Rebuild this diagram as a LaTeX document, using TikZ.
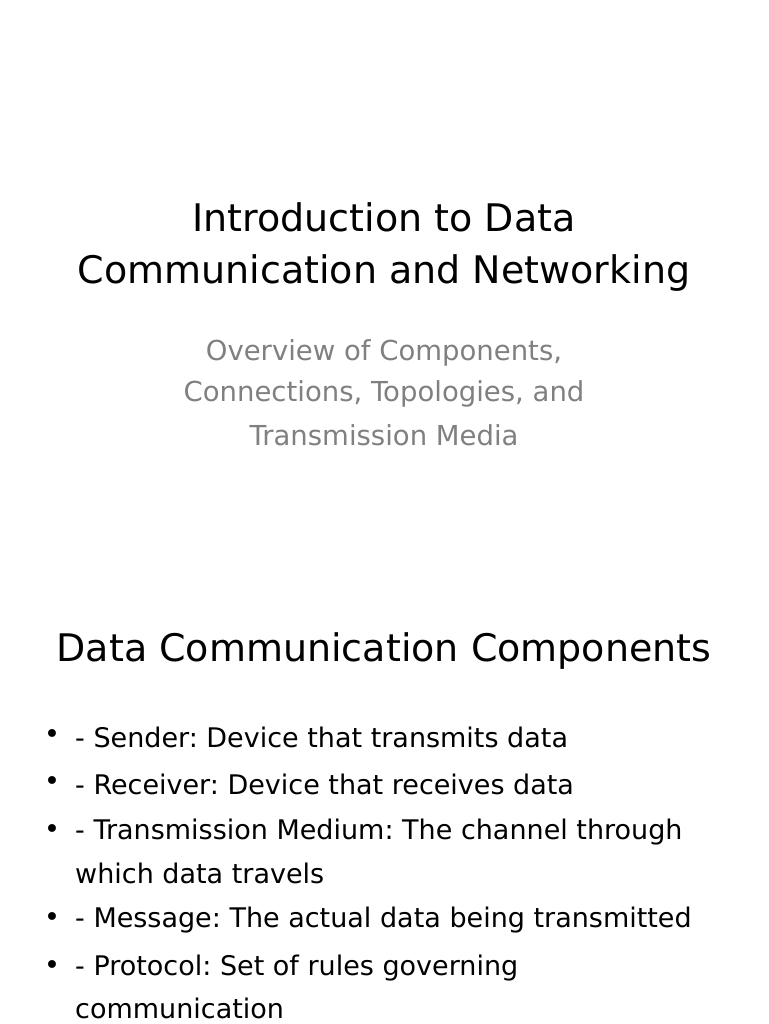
\documentclass[tikz,border=0pt]{standalone}
\usepackage{fontspec}
\setmainfont{DejaVu Sans}
\frenchspacing
\begin{document}
\begin{tikzpicture}[x=1pt,y=-1pt,
  title/.style={font=\fontsize{38}{44}\selectfont,anchor=center,inner sep=0},
  sub/.style={font=\fontsize{27.5}{32}\selectfont,text=black!50,anchor=center,inner sep=0},
  bul/.style={font=\fontsize{27}{32}\selectfont,anchor=west,inner sep=0}]
\useasboundingbox (0,0) rectangle (768,1024);
\node[title] (t1) at (384,217) {Introduction to Data};
\node[title] (t2) at (384,273) {Communication and Networking};
\node[sub] (s1) at (384,353) {Overview of Components,};
\node[sub] (s2) at (384,394) {Connections, Topologies, and};
\node[sub] (s3) at (384,435) {Transmission Media};
\node[title] (h) at (384,651) {Data Communication Components};
\foreach \y/\t/\n in {737/{- Sender: Device that transmits data}/b1,
  784/{- Receiver: Device that receives data}/b2,
  832/{- Transmission Medium: The channel through}/b3,
  920/{- Message: The actual data being transmitted}/b4,
  968/{- Protocol: Set of rules governing}/b5}{
  \node[bul] (d\n) at (44,\y) {•};
  \node[bul] (\n) at (75,\y) {\t};
}
\node[bul] (b3b) at (75,873) {which data travels};
\node[bul] (b5b) at (75,1008) {communication};
\end{tikzpicture}
\end{document}
